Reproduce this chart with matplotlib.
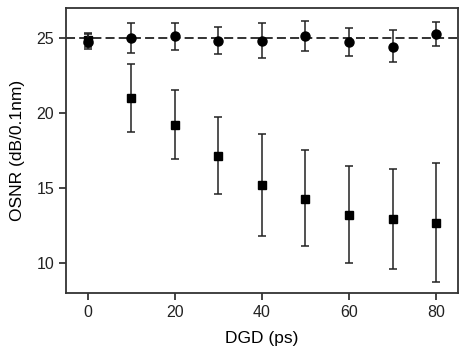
import matplotlib
matplotlib.use("Agg")
import matplotlib.pyplot as plt

plt.rcParams['font.family'] = ['Liberation Sans', 'DejaVu Sans']

dgd = [0, 10, 20, 30, 40, 50, 60, 70, 80]

circ_y = [24.73, 25.0, 25.13, 24.82, 24.82, 25.13, 24.73, 24.42, 25.27]
circ_hi = [25.33, 25.98, 26.03, 25.72, 25.98, 26.14, 25.67, 25.52, 26.07]
circ_lo = [24.29, 24.02, 24.18, 23.93, 23.64, 24.11, 23.82, 23.39, 24.49]

sq_y = [24.85, 20.98, 19.2, 17.16, 15.18, 14.28, 13.21, 12.9, 12.68]
sq_hi = [25.3, 23.28, 21.52, 19.76, 18.6, 17.5, 16.49, 16.25, 16.67]
sq_lo = [24.4, 18.73, 16.9, 14.58, 11.77, 11.12, 10.0, 9.58, 8.71]

ref_level = 25

fig = plt.figure(figsize=(4.74, 3.54), dpi=100)
ax = fig.add_axes([0.139, 0.173, 0.827, 0.804])

ax.axhline(ref_level, color='#222222', lw=1.3, dashes=(5, 2.3), zorder=1)

sq_err = [[y - l for y, l in zip(sq_y, sq_lo)], [h - y for y, h in zip(sq_y, sq_hi)]]
ax.errorbar(dgd, sq_y, yerr=sq_err, fmt='s', color='black', ms=5.8,
            ecolor='#222222', elinewidth=1.1, capsize=3.2, capthick=1.1, zorder=2)

circ_err = [[y - l for y, l in zip(circ_y, circ_lo)], [h - y for y, h in zip(circ_y, circ_hi)]]
ax.errorbar(dgd, circ_y, yerr=circ_err, fmt='o', color='black', ms=6.5,
            ecolor='#222222', elinewidth=1.1, capsize=3.2, capthick=1.1, zorder=3)

ax.set_xlim(-5, 85)
ax.set_ylim(8, 27)
ax.set_xticks([0, 20, 40, 60, 80])
ax.set_yticks([10, 15, 20, 25])
ax.tick_params(direction='out', length=5, width=1.2, labelsize=11.5, colors='#222222')
for s in ax.spines.values():
    s.set_linewidth(1.3)
    s.set_color('#333333')

ax.set_xlabel('DGD (ps)', fontsize=12.5, labelpad=8)
ax.set_ylabel('OSNR (dB/0.1nm)', fontsize=12.5, labelpad=8)

fig.savefig('out.png', dpi=100)
